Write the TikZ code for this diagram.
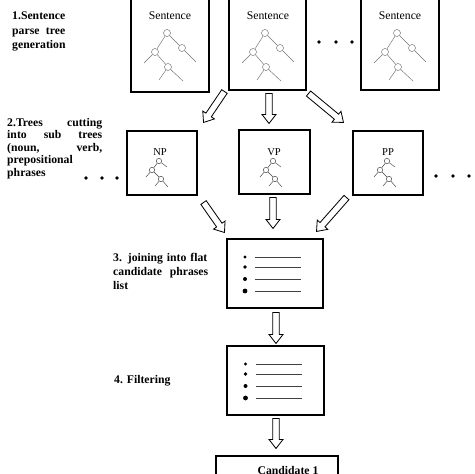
\documentclass[tikz,border=0pt]{standalone}
\usepackage{fontspec}
\setmainfont{Liberation Serif}
\usetikzlibrary{calc,fit}

\tikzset{
  box/.style={draw, line width=0.9pt, inner sep=0pt},
  stage/.style={font=\bfseries\fontsize{10}{12}\selectfont, anchor=north west, inner sep=0pt, align=left},
  tnode/.style={draw=black!55, circle, inner sep=0pt, minimum size=0.21cm, line width=0.4pt},
  snode/.style={tnode, minimum size=0.16cm, draw=black!75},
  twig/.style={black!55, line width=0.4pt},
  rule/.style={black!75, line width=0.6pt},
  fat/.style={draw, line width=0.7pt, fill=white},
  bigtree/.pic={
    \node[tnode] (r) at (-3,17.5) {};
    \node[tnode] (l) at (-15,36.5) {};
    \node[tnode] (rr) at (12,32.5) {};
    \node[tnode] (lr) at (-2,51.5) {};
    \draw[twig] (r) -- (l) (r) -- (rr) (l) -- (lr)
      (l) -- (-26,47.5) (rr) -- (26,46.5) (lr) -- (-11,64.5) (lr) -- (13,65.5);
  },
  subtree/.pic={
    \node[snode] (r) at (-1,9) {};
    \node[snode] (l) at (-8,18) {};
    \node[snode] (lr) at (1,27) {};
    \draw[twig, black!75] (r) -- (l) (l) -- (lr) (r) -- (7,15)
      (l) -- (-14,25) (lr) -- (-5,34) (lr) -- (8,35);
  },
  bullets/.pic={
    \foreach \y/\r in {-16.5/1.6, -6.5/1.8, 5.5/2.0, 17.5/2.4} {
      \fill (-30,\y) circle (\r);
      \draw[rule] (-20,\y) -- (26,\y);
    }
  }
}

% hollow block arrow from #1 to #2
\newcommand\fatarrow[2]{%
  \draw[fat] let \p1=#1, \p2=#2,
    \n1={atan2(\y2-\y1,\x2-\x1)}, \n2={veclen(\x2-\x1,\y2-\y1)} in
    [shift={(\p1)}, rotate=\n1]
    (0pt,2.8pt) -- ({\n2*1pt-7.7pt},2.8pt) -- ({\n2*1pt-7.7pt},6pt) -- ({\n2*1pt},0pt)
    -- ({\n2*1pt-7.7pt},-6pt) -- ({\n2*1pt-7.7pt},-2.8pt) -- (0pt,-2.8pt) -- cycle;}

\begin{document}
\begin{tikzpicture}[x=0.03cm, y=-0.03cm]
  \useasboundingbox (0,0) rectangle (474,474);
  \clip (0,0) rectangle (474,474);

  % 1: parse trees
  \node[box, fit={(131,-10) (209,92)}] (s1) {};
  \node[box, fit={(229,-10) (306,90)}] (s2) {};
  \node[box, fit={(361,-10) (439,90)}] (s3) {};
  \foreach \n/\x in {s1/170, s2/268, s3/400} {
    \node[font=\fontsize{10}{12}\selectfont, inner sep=0pt] (\n lbl) at (\x,15.5) {Sentence};
    \pic at (\x,15.5) {bigtree};
  }
  \foreach \x in {319,336,352} \fill (\x,42) circle (1.8);

  % 2: sub trees
  \node[box, fit={(127,131) (197,195)}] (np) {};
  \node[box, fit={(239,130) (310,194)}] (vp) {};
  \node[box, fit={(353,131) (423,195)}] (pp) {};
  \foreach \n/\x/\t in {np/160/NP, vp/274/VP, pp/388/PP} {
    \node[font=\fontsize{9}{11}\selectfont, inner sep=0pt] (\n lbl) at (\x,152) {\t};
    \pic at (\x,152) {subtree};
  }
  \foreach \x in {86,102,117} \fill (\x,178) circle (1.8);
  \foreach \x in {436,453,469} \fill (\x,176) circle (1.8);

  % 3, 4: candidate lists
  \node[box, fit={(227,239) (323,308)}] (l1) {};
  \node[box, fit={(227,346) (324,415)}] (l2) {};
  \pic at (l1.center) {bullets};
  \pic at (l2.center) {bullets};
  \node[box, fit={(216,456) (338,500)}] (cand) {};
  \node[font=\bfseries\fontsize{10}{12}\selectfont, inner sep=0pt, anchor=base] (candlbl) at (288,474.5) {Candidate 1};

  % block arrows
  \fatarrow{($(s2.south west)+(-4,1)$)}{($(np.north east)+(6,-8)$)}
  \fatarrow{($(s2.south)+(1.5,3)$)}{($(vp.north)+(-5.5,-6)$)}
  \fatarrow{($(s2.south east)+(2,3)$)}{($(pp.north west)+(-9,-8)$)}
  \fatarrow{($(np.south east)+(6,7)$)}{($(l1.north west)+(-2,-6)$)}
  \fatarrow{($(vp.south)+(-1.5,3)$)}{($(l1.north)+(-2,-10)$)}
  \fatarrow{($(pp.south west)+(-6,2)$)}{($(l1.north east)+(-7,-7)$)}
  \fatarrow{($(l1.south)+(1,4)$)}{($(l2.north)+(0.5,-2)$)}
  \fatarrow{($(l2.south)+(0.5,3)$)}{($(cand.north)+(-1,-7)$)}

  % stage labels
  \node[stage, text width=1.59cm] (lab1) at (12,12)
    {1.Sentence\\ \makebox[1.59cm][l]{parse\hfill tree}\\ generation};
  \node[stage, font=\bfseries\fontsize{10}{10.7}\selectfont, text width=2.85cm] (lab2) at (7,118)
    {\makebox[2.85cm][l]{2.Trees\hfill cutting}\\ \makebox[2.85cm][l]{into\hfill sub\hfill trees}\\
     \makebox[2.85cm][l]{(noun,\hfill verb,}\\ prepositional\\ phrases};
  \node[stage, text width=2.85cm] (lab3) at (113,253)
    {\makebox[2.85cm][l]{3. joining into flat}\\ \makebox[2.85cm][l]{candidate\hfill phrases}\\ list};
  \node[stage] (lab4) at (114,375) {4. Filtering};
\end{tikzpicture}
\end{document}
